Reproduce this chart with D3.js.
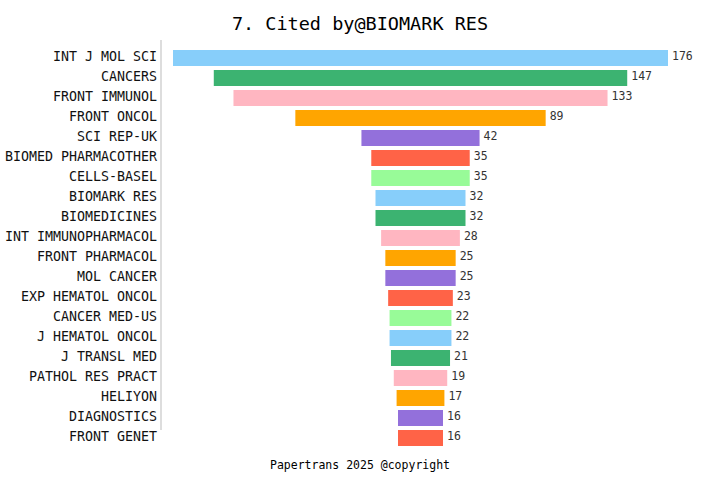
<!DOCTYPE html>
<html>
<head>
<meta charset="utf-8">
<script src="https://cdn.jsdelivr.net/npm/d3@7"></script>
<style>
  body { margin: 0; background: #fff; }
  text { font-family: "DejaVu Sans Mono", "Liberation Mono", monospace; }
</style>
</head>
<body>
<svg class="main" width="720" height="480"></svg>
<script>
var journals = ["INT J MOL SCI", "CANCERS", "FRONT IMMUNOL", "FRONT ONCOL", "SCI REP-UK",
    "BIOMED PHARMACOTHER", "CELLS-BASEL", "BIOMARK RES", "BIOMEDICINES", "INT IMMUNOPHARMACOL",
    "FRONT PHARMACOL", "MOL CANCER", "EXP HEMATOL ONCOL", "CANCER MED-US", "J HEMATOL ONCOL",
    "J TRANSL MED", "PATHOL RES PRACT", "HELIYON", "DIAGNOSTICS", "FRONT GENET"];
var counts = [176, 147, 133, 89, 42, 35, 35, 32, 32, 28, 25, 25, 23, 22, 22, 21, 19, 17, 16, 16];
var palette = ["#87CEFA", "#3CB371", "#FFB6C1", "#FFA500", "#9370DB", "#FF6347", "#98FB98"];

var svg = d3.select(".main"),
    centerX = 420.5;

var x = d3.scaleLinear()
    .domain([0, d3.max(counts)])
    .range([0, 495]);

var y = d3.scaleBand()
    .domain(journals)
    .range([48, 448])
    .paddingInner(0.2)
    .paddingOuter(0.1);

var data = journals.map(function(d, i) {
    return {name: d, value: counts[i], color: palette[i % palette.length]};
});

// title
svg.append("text")
    .attr("x", 360)
    .attr("y", 30)
    .attr("text-anchor", "middle")
    .style("font-size", "18.5px")
    .style("fill", "#000")
    .text("7. Cited by@BIOMARK RES");

// left axis line
svg.append("line")
    .attr("x1", 161).attr("x2", 161)
    .attr("y1", y(journals[0]) - 10)
    .attr("y2", y(journals[journals.length - 1]))
    .attr("stroke", "#ddd")
    .attr("stroke-width", 2);

// bars, centered
svg.selectAll("rect.bar")
    .data(data)
    .enter().append("rect")
    .attr("class", "bar")
    .attr("x", function(d) { return centerX - x(d.value) / 2; })
    .attr("y", function(d) { return y(d.name); })
    .attr("width", function(d) { return x(d.value); })
    .attr("height", y.bandwidth())
    .attr("fill", function(d) { return d.color; });

// category labels
svg.selectAll("text.cat")
    .data(data)
    .enter().append("text")
    .attr("class", "cat")
    .attr("x", 157)
    .attr("y", function(d) { return y(d.name) + y.bandwidth() / 2; })
    .attr("dy", "0.22em")
    .attr("text-anchor", "end")
    .style("font-size", "13.3px")
    .style("fill", "#111")
    .text(function(d) { return d.name; });

// value labels
svg.selectAll("text.val")
    .data(data)
    .enter().append("text")
    .attr("class", "val")
    .attr("x", function(d) { return centerX + x(d.value) / 2 + 4; })
    .attr("y", function(d) { return y(d.name) + y.bandwidth() / 2; })
    .attr("dy", "0.2em")
    .style("font-size", "11.5px")
    .style("fill", "#333")
    .text(function(d) { return d.value; });

// footer
svg.append("text")
    .attr("x", 360)
    .attr("y", 469)
    .attr("text-anchor", "middle")
    .style("font-size", "11.5px")
    .style("fill", "#000")
    .text("Papertrans 2025 @copyright");
</script>
</body>
</html>
